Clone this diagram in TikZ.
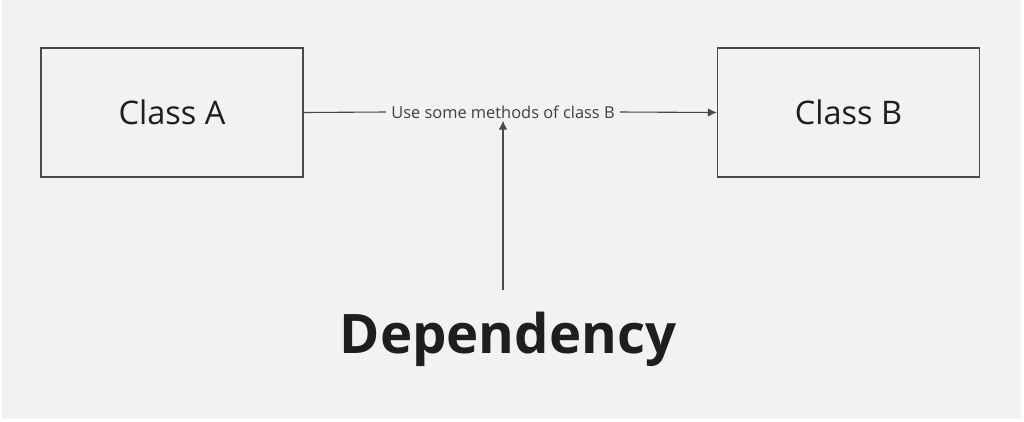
\documentclass[tikz,border=0pt]{standalone}
\usepackage{fontspec}
\setmainfont{Open Sans}
\usetikzlibrary{arrows.meta}
\definecolor{bg}{HTML}{F2F2F2}
\definecolor{edge}{HTML}{4A4A4A}
\definecolor{ink}{HTML}{1E1E1E}
\begin{document}
\begin{tikzpicture}[x=1pt,y=-1pt,
  classbox/.style={draw=edge,line width=1.3pt,minimum width=262pt,minimum height=129pt,inner sep=0pt,font=\fontsize{32.5}{38}\selectfont,text=ink},
  conn/.style={draw=edge,line width=1.1pt},
  tip/.style={-{Latex[length=9pt,width=8.5pt]}},
  lbl/.style={fill=bg,inner sep=5pt,font=\fontsize{16.4}{19}\selectfont,text=ink!85}]
\useasboundingbox (0,0) rectangle (1024,421);
\fill[white] (0,0) rectangle (1024,421);
\fill[bg] (2,0) rectangle (1021,419);
\node[classbox] (A) at (172,112.5) {Class A};
\node[classbox] (B) at (848.5,112.5) {Class B};
\node[lbl] (L) at (503,112) {Use some methods of class B};
\draw[conn] (A.east) -- (L.west);
\draw[conn,tip] (L.east) -- (B.west);
\coordinate (S) at (503,290);
\node[font=\bfseries\fontsize{54.5}{64}\selectfont,text=ink] (D) at (508,339) {Dependency};
\draw[conn,tip] (S) -- ([yshift=3pt]L.south);
\end{tikzpicture}
\end{document}
